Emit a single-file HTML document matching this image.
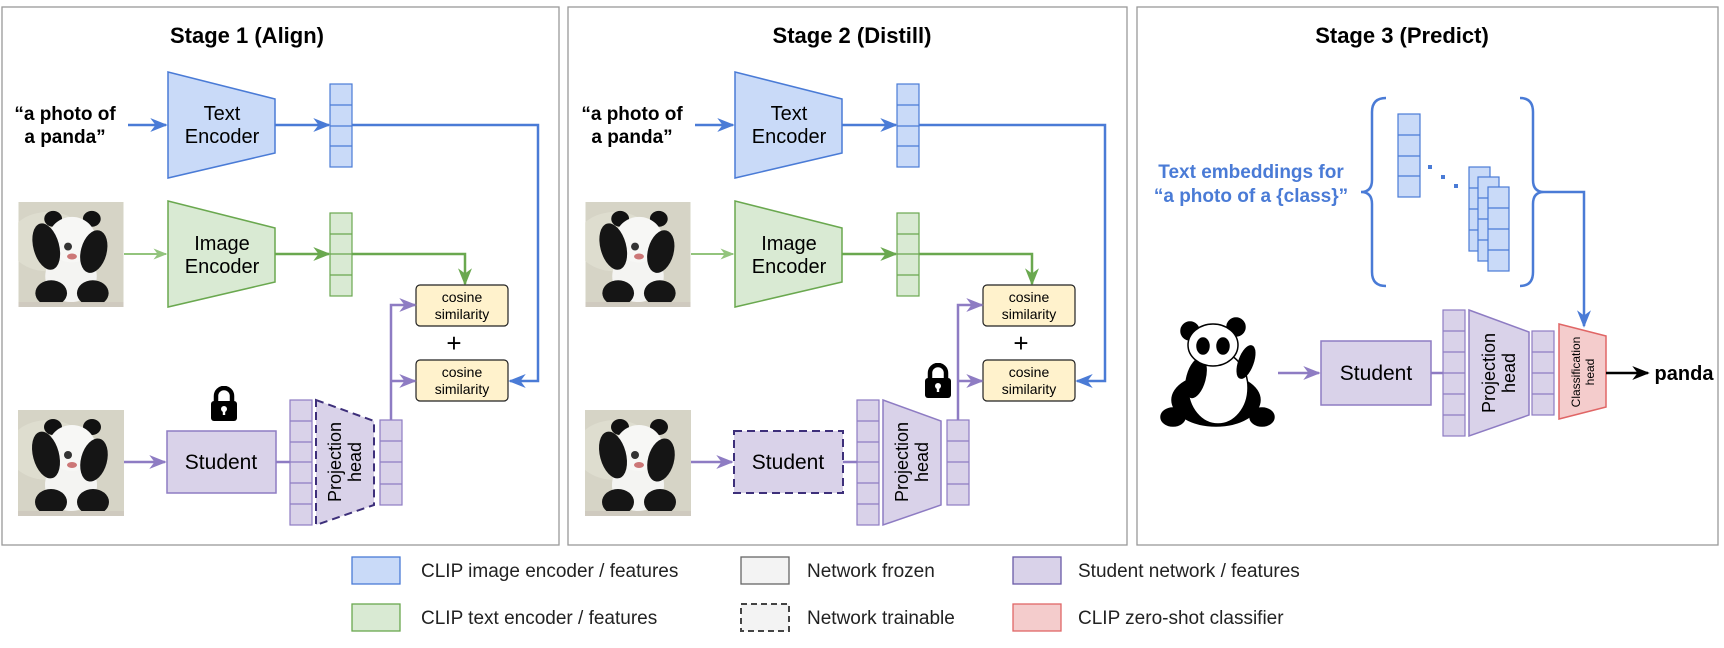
<!DOCTYPE html>
<html><head><meta charset="utf-8"><style>
html,body{margin:0;padding:0;background:#fff;}
svg{display:block;font-family:"Liberation Sans",sans-serif;}
</style></head><body>
<svg width="1724" height="648" viewBox="0 0 1724 648" xmlns="http://www.w3.org/2000/svg">
<defs>
<marker id="ab" viewBox="0 0 10 10" refX="9" refY="5" markerWidth="7" markerHeight="7" orient="auto-start-reverse"><path d="M0,1 L10,5 L0,9 L3,5z" fill="#4a7bd6"/></marker>
<marker id="ag" viewBox="0 0 10 10" refX="9" refY="5" markerWidth="7" markerHeight="7" orient="auto"><path d="M0,1 L10,5 L0,9 L3,5z" fill="#6aa84f"/></marker>
<marker id="agl" viewBox="0 0 10 10" refX="9" refY="5" markerWidth="7" markerHeight="7" orient="auto"><path d="M0,1 L10,5 L0,9 L3,5z" fill="#93c47d"/></marker>
<marker id="ap" viewBox="0 0 10 10" refX="9" refY="5" markerWidth="7" markerHeight="7" orient="auto"><path d="M0,1 L10,5 L0,9 L3,5z" fill="#8e7cc3"/></marker>
<marker id="ak" viewBox="0 0 10 10" refX="9" refY="5" markerWidth="7" markerHeight="7" orient="auto"><path d="M0,1 L10,5 L0,9 L3,5z" fill="#000"/></marker>
<symbol id="photo" viewBox="0 0 106 106">
<rect width="106" height="106" fill="#d6d4c6"/>
<ellipse cx="30" cy="40" rx="40" ry="30" fill="#e2e2d6" opacity=".6"/>
<ellipse cx="53" cy="75" rx="26" ry="26" fill="#f4f4f2"/>
<ellipse cx="35" cy="17" rx="9" ry="8" fill="#111"/><ellipse cx="74" cy="17" rx="9" ry="8" fill="#111"/>
<ellipse cx="54" cy="38" rx="24" ry="23" fill="#f7f7f5"/>
<ellipse cx="28" cy="45" rx="13" ry="24" fill="#151515" transform="rotate(-15 28 45)"/>
<ellipse cx="76" cy="50" rx="13" ry="22" fill="#151515" transform="rotate(15 76 50)"/>
<ellipse cx="50" cy="45" rx="4" ry="4" fill="#333"/><ellipse cx="54" cy="55" rx="5" ry="3" fill="#c77"/>
<ellipse cx="33" cy="92" rx="16" ry="13" fill="#151515"/><ellipse cx="75" cy="92" rx="16" ry="13" fill="#151515"/>
<rect y="101" width="106" height="5" fill="#cfcabf"/>
</symbol>
<symbol id="lock" viewBox="0 0 30 36">
<path d="M7,16 V10 a8,8 0 0 1 16,0 V16" fill="none" stroke="#000" stroke-width="4.5"/>
<rect x="2" y="15" width="26" height="20" rx="3" fill="#000"/>
<circle cx="15" cy="23" r="3" fill="#fff"/><rect x="13.8" y="23" width="2.4" height="6" fill="#fff"/>
</symbol>
<g id="common">
<text x="65" y="120" font-size="19" font-weight="bold" text-anchor="middle">“a photo of</text>
<text x="65" y="143" font-size="19" font-weight="bold" text-anchor="middle">a panda”</text>
<line x1="128" y1="125" x2="166" y2="125" stroke="#4a7bd6" stroke-width="2.5" marker-end="url(#ab)"/>
<path d="M168,72 L275,99 L275,153 L168,178z" fill="#c9daf8" stroke="#4a7bd6" stroke-width="1.5"/>
<text x="222" y="120" font-size="20" text-anchor="middle">Text</text>
<text x="222" y="143" font-size="20" text-anchor="middle">Encoder</text>
<line x1="275" y1="125" x2="329" y2="125" stroke="#4a7bd6" stroke-width="2.5" marker-end="url(#ab)"/>
<rect x="330" y="84" width="22" height="83" fill="#c9daf8" stroke="#4a7bd6" stroke-width="1.2"/>
<path d="M330,105h22M330,126h22M330,146h22" stroke="#4a7bd6" stroke-width="1.2"/>
<use href="#photo" x="18" y="202" width="106" height="105"/>
<line x1="124" y1="254" x2="166" y2="254" stroke="#93c47d" stroke-width="2" marker-end="url(#agl)"/>
<path d="M168,201 L275,228 L275,282 L168,307z" fill="#d9ead3" stroke="#6aa84f" stroke-width="1.5"/>
<text x="222" y="250" font-size="20" text-anchor="middle">Image</text>
<text x="222" y="273" font-size="20" text-anchor="middle">Encoder</text>
<line x1="275" y1="254" x2="329" y2="254" stroke="#6aa84f" stroke-width="2.5" marker-end="url(#ag)"/>
<rect x="330" y="213" width="22" height="83" fill="#d9ead3" stroke="#6aa84f" stroke-width="1.2"/>
<path d="M330,234h22M330,254h22M330,275h22" stroke="#6aa84f" stroke-width="1.2"/>
<path d="M352,254 H465 V284" fill="none" stroke="#6aa84f" stroke-width="2.5" marker-end="url(#ag)"/>
<rect x="416" y="285" width="92" height="41" rx="4" fill="#fff2cc" stroke="#222" stroke-width="1.2"/>
<text x="462" y="302" font-size="14" text-anchor="middle">cosine</text>
<text x="462" y="319" font-size="14" text-anchor="middle">similarity</text>
<text x="454" y="352" font-size="26" text-anchor="middle">+</text>
<rect x="416" y="360" width="92" height="41" rx="4" fill="#fff2cc" stroke="#222" stroke-width="1.2"/>
<text x="462" y="377" font-size="14" text-anchor="middle">cosine</text>
<text x="462" y="394" font-size="14" text-anchor="middle">similarity</text>
<path d="M352,125 H538 V381 H510" fill="none" stroke="#4a7bd6" stroke-width="2.5" marker-end="url(#ab)"/>
<use href="#photo" x="18" y="410" width="106" height="106"/>
<line x1="124" y1="462" x2="165" y2="462" stroke="#8e7cc3" stroke-width="2.5" marker-end="url(#ap)"/>
<line x1="276" y1="462" x2="290" y2="462" stroke="#8e7cc3" stroke-width="2.5"/>
<rect x="290" y="400" width="22" height="125" fill="#d9d2e9" stroke="#8e7cc3" stroke-width="1.2"/>
<path d="M290,421h22M290,442h22M290,462h22M290,483h22M290,504h22" stroke="#8e7cc3" stroke-width="1.2"/>
<rect x="380" y="420" width="22" height="85" fill="#d9d2e9" stroke="#8e7cc3" stroke-width="1.2"/>
<path d="M380,441h22M380,462h22M380,484h22" stroke="#8e7cc3" stroke-width="1.2"/>
<path d="M391,420 V305 H415" fill="none" stroke="#8e7cc3" stroke-width="2.5" marker-end="url(#ap)"/>
<path d="M391,381 H415" fill="none" stroke="#8e7cc3" stroke-width="2.5" marker-end="url(#ap)"/>
</g>
</defs>

<rect x="2" y="7" width="557" height="538" fill="none" stroke="#999" stroke-width="1.3"/>
<rect x="568" y="7" width="559" height="538" fill="none" stroke="#999" stroke-width="1.3"/>
<rect x="1137" y="7" width="581" height="538" fill="none" stroke="#999" stroke-width="1.3"/>

<text x="247" y="43" font-size="22" font-weight="bold" text-anchor="middle">Stage 1 (Align)</text>
<text x="852" y="43" font-size="22" font-weight="bold" text-anchor="middle">Stage 2 (Distill)</text>
<text x="1402" y="43" font-size="22" font-weight="bold" text-anchor="middle">Stage 3 (Predict)</text>

<use href="#common"/>
<use href="#lock" x="209" y="386" width="30" height="36"/>
<rect x="167" y="431" width="109" height="62" fill="#d9d2e9" stroke="#8e7cc3" stroke-width="1.5"/>
<text x="221" y="469" font-size="21" text-anchor="middle">Student</text>
<path d="M316,400 L374,421 L374,505 L316,525z" fill="#d9d2e9" stroke="#3d2f7a" stroke-width="2" stroke-dasharray="8,5"/>
<g transform="translate(345,462) rotate(-90)"><text x="0" y="-4" font-size="18" text-anchor="middle">Projection</text><text x="0" y="16" font-size="18" text-anchor="middle">head</text></g>

<g transform="translate(567,0)">
<use href="#common"/>
<rect x="167" y="431" width="109" height="62" fill="#d9d2e9" stroke="#3d2f7a" stroke-width="2" stroke-dasharray="8,5"/>
<text x="221" y="469" font-size="21" text-anchor="middle">Student</text>
<path d="M316,400 L374,421 L374,505 L316,525z" fill="#d9d2e9" stroke="#8e7cc3" stroke-width="1.5"/>
<g transform="translate(345,462) rotate(-90)"><text x="0" y="-4" font-size="18" text-anchor="middle">Projection</text><text x="0" y="16" font-size="18" text-anchor="middle">head</text></g>
<use href="#lock" x="356" y="363" width="30" height="36"/>
</g>

<text x="1251" y="178" font-size="19" font-weight="bold" fill="#4a7bd6" text-anchor="middle">Text embeddings for</text>
<text x="1251" y="202" font-size="19" font-weight="bold" fill="#4a7bd6" text-anchor="middle">“a photo of a {class}”</text>
<path d="M1386,98 Q1372,98 1372,112 V180 Q1372,192 1361,192 Q1372,192 1372,204 V272 Q1372,286 1386,286" fill="none" stroke="#4a7bd6" stroke-width="2.5"/>
<path d="M1520,98 Q1533,98 1533,112 V180 Q1533,192 1544,192 Q1533,192 1533,204 V272 Q1533,286 1520,286" fill="none" stroke="#4a7bd6" stroke-width="2.5"/>
<rect x="1398" y="114" width="22" height="83" fill="#c9daf8" stroke="#4a7bd6" stroke-width="1.2"/>
<path d="M1398,135h22M1398,156h22M1398,176h22" stroke="#4a7bd6" stroke-width="1.2"/>
<rect x="1428" y="165" width="4" height="4" fill="#4a7bd6"/><rect x="1441" y="175" width="4" height="4" fill="#4a7bd6"/><rect x="1454" y="184" width="4" height="4" fill="#4a7bd6"/>
<rect x="1469" y="167" width="21" height="84" fill="#c9daf8" stroke="#4a7bd6" stroke-width="1.2"/>
<path d="M1469,188h21M1469,209h21M1469,230h21" stroke="#4a7bd6" stroke-width="1.2"/>
<rect x="1478" y="177" width="21" height="84" fill="#c9daf8" stroke="#4a7bd6" stroke-width="1.2"/>
<path d="M1478,198h21M1478,219h21M1478,240h21" stroke="#4a7bd6" stroke-width="1.2"/>
<rect x="1488" y="187" width="21" height="84" fill="#c9daf8" stroke="#4a7bd6" stroke-width="1.2"/>
<path d="M1488,208h21M1488,229h21M1488,250h21" stroke="#4a7bd6" stroke-width="1.2"/>
<path d="M1544,192 H1584 V326" fill="none" stroke="#4a7bd6" stroke-width="2.5" marker-end="url(#ab)"/>

<g stroke="#000" stroke-width="1.5">
<ellipse cx="1216" cy="400" rx="44" ry="26" fill="#000"/>
<ellipse cx="1218" cy="388" rx="30" ry="36" fill="#fff"/>
<ellipse cx="1196" cy="378" rx="9" ry="20" fill="#000" transform="rotate(15 1196 378)"/>
<ellipse cx="1246" cy="362" rx="7" ry="17" fill="#000" transform="rotate(20 1246 362)"/>
<circle cx="1190" cy="331" r="9" fill="#000"/><circle cx="1236" cy="327" r="9" fill="#000"/>
<ellipse cx="1213" cy="345" rx="25" ry="21" fill="#fff"/>
<ellipse cx="1203" cy="346" rx="6" ry="8" fill="#000"/><ellipse cx="1223" cy="346" rx="6" ry="8" fill="#000"/>
<ellipse cx="1173" cy="417" rx="12" ry="9" fill="#000"/><ellipse cx="1262" cy="417" rx="12" ry="9" fill="#000"/>
</g>
<line x1="1278" y1="373" x2="1319" y2="373" stroke="#8e7cc3" stroke-width="2.5" marker-end="url(#ap)"/>
<rect x="1321" y="341" width="110" height="64" fill="#d9d2e9" stroke="#8e7cc3" stroke-width="1.5"/>
<text x="1376" y="380" font-size="21" text-anchor="middle">Student</text>
<line x1="1431" y1="373" x2="1443" y2="373" stroke="#8e7cc3" stroke-width="2.5"/>
<rect x="1443" y="310" width="22" height="126" fill="#d9d2e9" stroke="#8e7cc3" stroke-width="1.2"/>
<path d="M1443,331h22M1443,352h22M1443,373h22M1443,394h22M1443,415h22" stroke="#8e7cc3" stroke-width="1.2"/>
<path d="M1469,310 L1529,332 L1529,415 L1469,436z" fill="#d9d2e9" stroke="#8e7cc3" stroke-width="1.5"/>
<g transform="translate(1499,373) rotate(-90)"><text x="0" y="-4" font-size="18" text-anchor="middle">Projection</text><text x="0" y="16" font-size="18" text-anchor="middle">head</text></g>
<rect x="1532" y="331" width="22" height="84" fill="#d9d2e9" stroke="#8e7cc3" stroke-width="1.2"/>
<path d="M1532,352h22M1532,373h22M1532,394h22" stroke="#8e7cc3" stroke-width="1.2"/>
<path d="M1559,324 L1606,336 L1606,407 L1559,419z" fill="#f4cccc" stroke="#e06666" stroke-width="1.5"/>
<g transform="translate(1582,372) rotate(-90)"><text x="0" y="-2" font-size="12" text-anchor="middle">Classification</text><text x="0" y="12" font-size="12" text-anchor="middle">head</text></g>
<line x1="1606" y1="373" x2="1648" y2="373" stroke="#000" stroke-width="2.5" marker-end="url(#ak)"/>
<text x="1684" y="380" font-size="20" font-weight="bold" text-anchor="middle">panda</text>

<g font-size="19" fill="#222">
<rect x="352" y="557" width="48" height="27" fill="#c9daf8" stroke="#4a7bd6" stroke-width="1.3"/>
<text x="421" y="577">CLIP image encoder / features</text>
<rect x="741" y="557" width="48" height="27" fill="#f3f3f3" stroke="#666" stroke-width="1.3"/>
<text x="807" y="577">Network frozen</text>
<rect x="1013" y="557" width="48" height="27" fill="#d9d2e9" stroke="#6a5aa8" stroke-width="1.3"/>
<text x="1078" y="577">Student network / features</text>
<rect x="352" y="604" width="48" height="27" fill="#d9ead3" stroke="#6aa84f" stroke-width="1.3"/>
<text x="421" y="624">CLIP text encoder / features</text>
<rect x="741" y="604" width="48" height="27" fill="#f3f3f3" stroke="#444" stroke-width="2" stroke-dasharray="6,4"/>
<text x="807" y="624">Network trainable</text>
<rect x="1013" y="604" width="48" height="27" fill="#f4cccc" stroke="#e06666" stroke-width="1.3"/>
<text x="1078" y="624">CLIP zero-shot classifier</text>
</g>
</svg>
</body></html>
